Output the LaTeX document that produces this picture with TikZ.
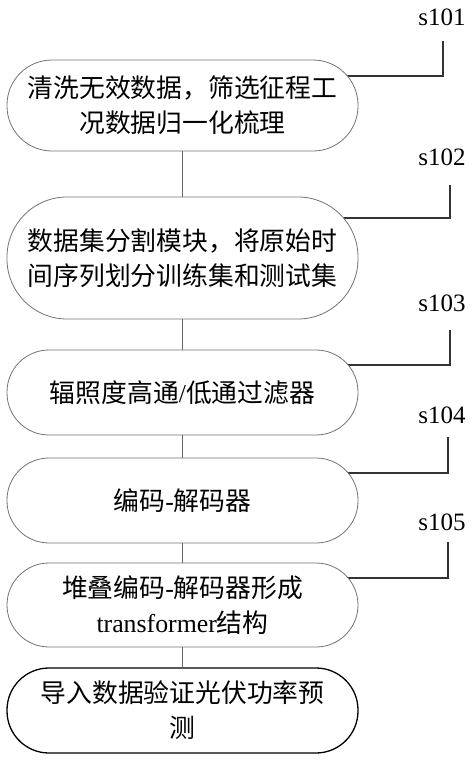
\documentclass[tikz,border=0pt]{standalone}
\usepackage{fontspec}
\setmainfont{Liberation Serif}
\newfontfamily\cjk{Noto Sans CJK SC}
\usetikzlibrary{backgrounds}
\newcommand{\lat}[1]{{\rmfamily #1}}
\begin{document}
\begin{tikzpicture}[x=1pt,y=-1pt,
  stepbox/.style={draw=black!55, line width=0.8pt, fill=white, rectangle,
    minimum width=351pt, align=center, inner sep=0pt,
    font=\fontsize{25.8}{35}\selectfont\cjk},
  link/.style={draw=black!60, line width=0.8pt},
  leader/.style={draw=black!80, line width=1.3pt},
  tag/.style={font=\fontsize{25}{30}\selectfont, inner sep=0pt}]
\useasboundingbox (0,0) rectangle (474,763);

\node[stepbox, minimum height=91pt, rounded corners=45pt] (b1) at (182.5,105.5)
  {清洗无效数据，筛选征程工\\况数据归一化梳理};
\node[stepbox, minimum height=122pt, rounded corners=60pt] (b2) at (182.5,258)
  {数据集分割模块，将原始时\\间序列划分训练集和测试集};
\node[stepbox, minimum height=85pt, rounded corners=42pt] (b3) at (182.5,392.5)
  {辐照度高通\lat{/}低通过滤器};
\node[stepbox, minimum height=85pt, rounded corners=42pt] (b4) at (182.5,500.5)
  {编码\lat{-}解码器};
\node[stepbox, minimum height=84pt, rounded corners=42pt] (b5) at (182.5,605)
  {堆叠编码\lat{-}解码器形成\\\lat{transformer}结构};
\node[stepbox, draw=black, line width=1.3pt, minimum height=85pt, rounded corners=42pt] (b6) at (182.5,710.5)
  {导入数据验证光伏功率预\\测};

\node[tag] (t1) at (442,17) {s101};
\node[tag] (t2) at (442,157) {s102};
\node[tag] (t3) at (442,303) {s103};
\node[tag] (t4) at (442,415) {s104};
\node[tag] (t5) at (442,522) {s105};

\coordinate (k1) at (443,41);  \coordinate (c1) at (443,76);
\coordinate (k2) at (450,185); \coordinate (c2) at (450,218);
\coordinate (k3) at (450,330); \coordinate (c3) at (450,365);
\coordinate (k4) at (448,437); \coordinate (c4) at (448,473);
\coordinate (k5) at (448,542); \coordinate (c5) at (448,578);

\begin{pgfonlayer}{background}
\draw[leader] (k1) -- (c1) -- (b1.center |- c1);
\draw[leader] (k2) -- (c2) -- (b2.center |- c2);
\draw[leader] (k3) -- (c3) -- (b3.center |- c3);
\draw[leader] (k4) -- (c4) -- (b4.center |- c4);
\draw[leader] (k5) -- (c5) -- (b5.center |- c5);
\end{pgfonlayer}

\draw[link] (b1) -- (b2);
\draw[link] (b2) -- (b3);
\draw[link] (b3) -- (b4);
\draw[link] (b4) -- (b5);
\draw[link] (b5) -- (b6);
\end{tikzpicture}
\end{document}
